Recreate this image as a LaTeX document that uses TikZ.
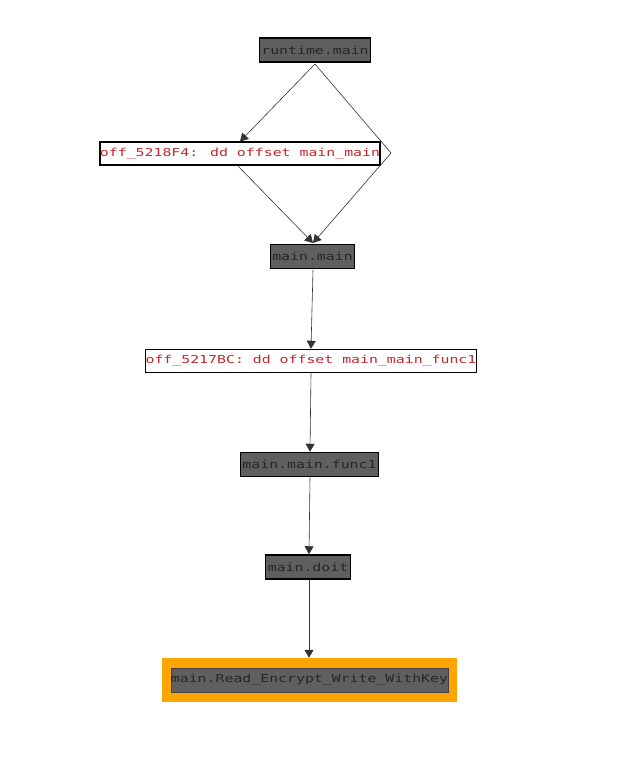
\documentclass[tikz,border=0pt]{standalone}
\usepackage{fontspec}
\usetikzlibrary{arrows.meta}
\newfontfamily\idafont[FakeStretch=1.35]{DejaVu Sans Mono}
\definecolor{gbox}{HTML}{5F5F5F}
\definecolor{gtxt}{HTML}{262626}
\definecolor{rtxt}{HTML}{C0282E}
\definecolor{ora}{HTML}{FFA500}
\begin{document}
\begin{tikzpicture}[x=1pt,y=-1pt,
  fn/.style={draw=black,line width=1.5pt,fill=gbox,text=gtxt,font=\idafont\fontsize{11}{12}\selectfont,inner sep=0pt,minimum height=24pt},
  dat/.style={draw=black,line width=1.5pt,fill=white,text=rtxt,font=\idafont\fontsize{11}{12}\selectfont,inner sep=0pt,minimum height=23pt},
  ed/.style={draw=black!80,line width=0.6pt,-{Triangle[length=8pt,width=9pt]}}]
\useasboundingbox (0,0) rectangle (624,761);
\node[fn,minimum width=111pt] (rt) at (315,50) {runtime.main};
\node[dat,minimum width=277pt] (o1) at (240,153.5) {off\_5218F4: dd offset main\_main};
\node[fn,minimum width=84pt] (mm) at (312.5,256.5) {main.main};
\node[dat,minimum width=327pt] (o2) at (311,361) {off\_5217BC: dd offset main\_main\_func1};
\node[fn,minimum width=138pt] (f1) at (309.5,464.5) {main.main.func1};
\node[fn,minimum width=85pt] (di) at (308,567) {main.doit};
\node[fill=ora,minimum width=295pt,minimum height=44pt,inner sep=0pt] (rk) at (309.5,680) {};
\node[draw=gbox!70!black,fill=gbox,text=gtxt,font=\idafont\fontsize{11}{12}\selectfont,minimum width=275pt,minimum height=24pt,inner sep=0pt] (rkin) at (rk.center) {main.Read\_Encrypt\_Write\_WithKey};
\coordinate (r1) at (315,64);
\coordinate (t1) at (240,141.5);
\coordinate (bend) at (391,153);
\coordinate (mt) at (313,243);
\coordinate (ob) at (238,166);
\draw[ed] (r1) -- (t1);
\draw[ed] (r1) -- (bend) -- (mt);
\draw[ed] (ob) -- (mt);
\draw[ed] (313,270) -- (o2.north -| 311,0);
\draw[ed] (o2.south -| 311,0) -- (f1.north -| 310,0);
\draw[ed] (f1.south -| 310,0) -- (di.north -| 309,0);
\draw[ed] (di.south -| 309,0) -- (rk.north -| 309,0);
\end{tikzpicture}
\end{document}
